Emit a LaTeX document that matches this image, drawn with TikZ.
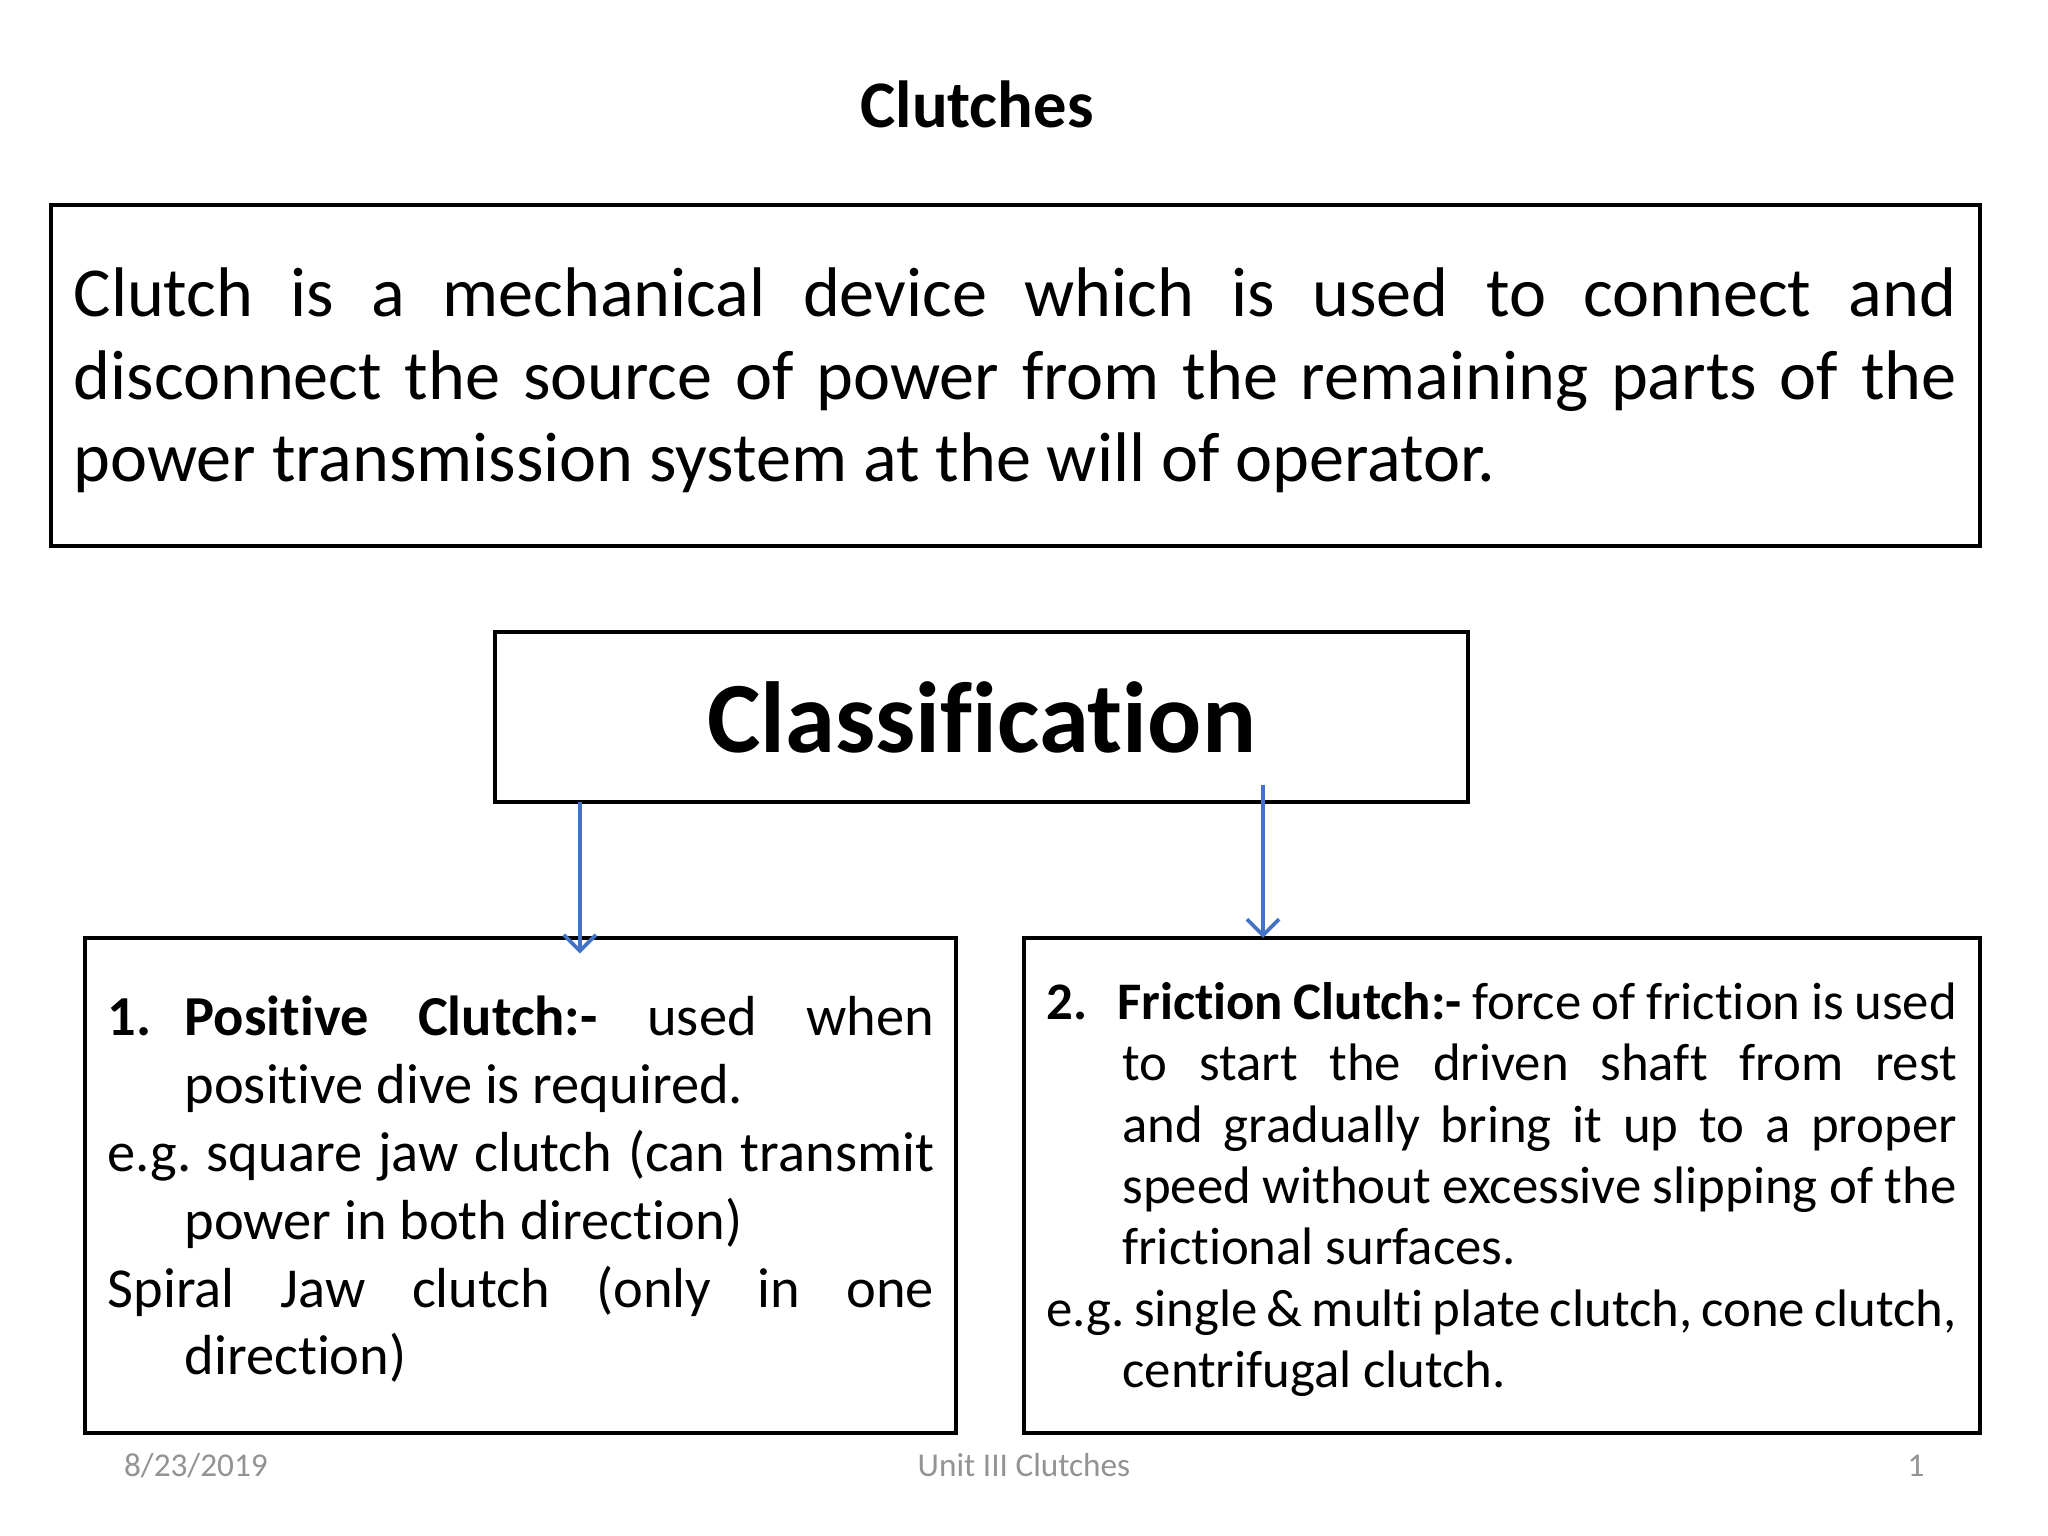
\documentclass[tikz,border=0pt]{standalone}
\usepackage{fontspec}
\setmainfont{Carlito}[RawFeature=-liga]
\usetikzlibrary{arrows.meta}
\definecolor{arr}{RGB}{68,114,196}
\tikzset{box/.style={draw,line width=1.6pt},
 conn/.style={draw=arr,line width=1.6pt,-{Straight Barb[length=7pt,width=14pt]}},
 txt/.style={inner sep=0,anchor=north west,align=justify},
 foot/.style={text=gray!85,font=\fontsize{14.5pt}{16pt}\selectfont}}
\begin{document}
\frenchspacing\hyphenpenalty=10000 \exhyphenpenalty=10000
\begin{tikzpicture}[x=0.02cm,y=-0.02cm]
\useasboundingbox (0,0) rectangle (1568,1176);
\node[font=\bfseries\fontsize{29pt}{34pt}\selectfont] (title) at (748,80) {Clutches};
\draw[box] (39,157) rectangle (1516,418);
\node[txt,text width=28.84cm,font=\fontsize{30.6pt}{35.8pt}\selectfont] (def) at (56,205)
 {Clutch is a mechanical device which is used to connect and disconnect the source of power from the remaining parts of the power transmission system at the will of operator.};
\node[box,minimum width=14.9cm,minimum height=2.6cm,font=\bfseries\fontsize{44pt}{50pt}\selectfont] (cls) at (751.5,549) {Classification};
\draw[box] (65,718) rectangle (732,1097);
\draw[box] (784,718) rectangle (1516,1097);
\coordinate (a1) at (444,614); \coordinate (a1e) at (444,730);
\coordinate (a2) at (967,601); \coordinate (a2e) at (967,718);
\draw[conn] (a1) -- (a1e);
\draw[conn] (a2) -- (a2e);
\node[txt,text width=12.66cm,font=\fontsize{24.6pt}{29.6pt}\selectfont] (pos) at (82,762)
 {\parindent=0pt
 \hangindent=1.18cm\hangafter=1 \makebox[1.18cm][l]{\textbf{1.}}\textbf{Positive Clutch:-} used when positive dive is required.\par
 \hangindent=1.18cm\hangafter=1 e.g. square jaw clutch (can transmit power in both direction)\par
 \hangindent=1.18cm\hangafter=1 Spiral Jaw clutch (only in one direction)\par};
\node[txt,text width=13.94cm,font=\fontsize{23pt}{26.7pt}\selectfont] (fri) at (801,752)
 {\parindent=0pt
 \hangindent=1.16cm\hangafter=1 \makebox[1.08cm][l]{\textbf{2.}}\textbf{Friction Clutch:-} force of friction is used to start the driven shaft from rest and gradually bring it up to a proper speed without excessive slipping of the frictional surfaces.\par
 \hangindent=1.16cm\hangafter=1 e.g. single \& multi plate clutch, cone clutch, centrifugal clutch.\par};
\node[foot] (f1) at (150,1122) {8/23/2019};
\node[foot] (f2) at (784,1122) {Unit III Clutches};
\node[foot] (f3) at (1467,1122) {1};
\end{tikzpicture}
\end{document}
